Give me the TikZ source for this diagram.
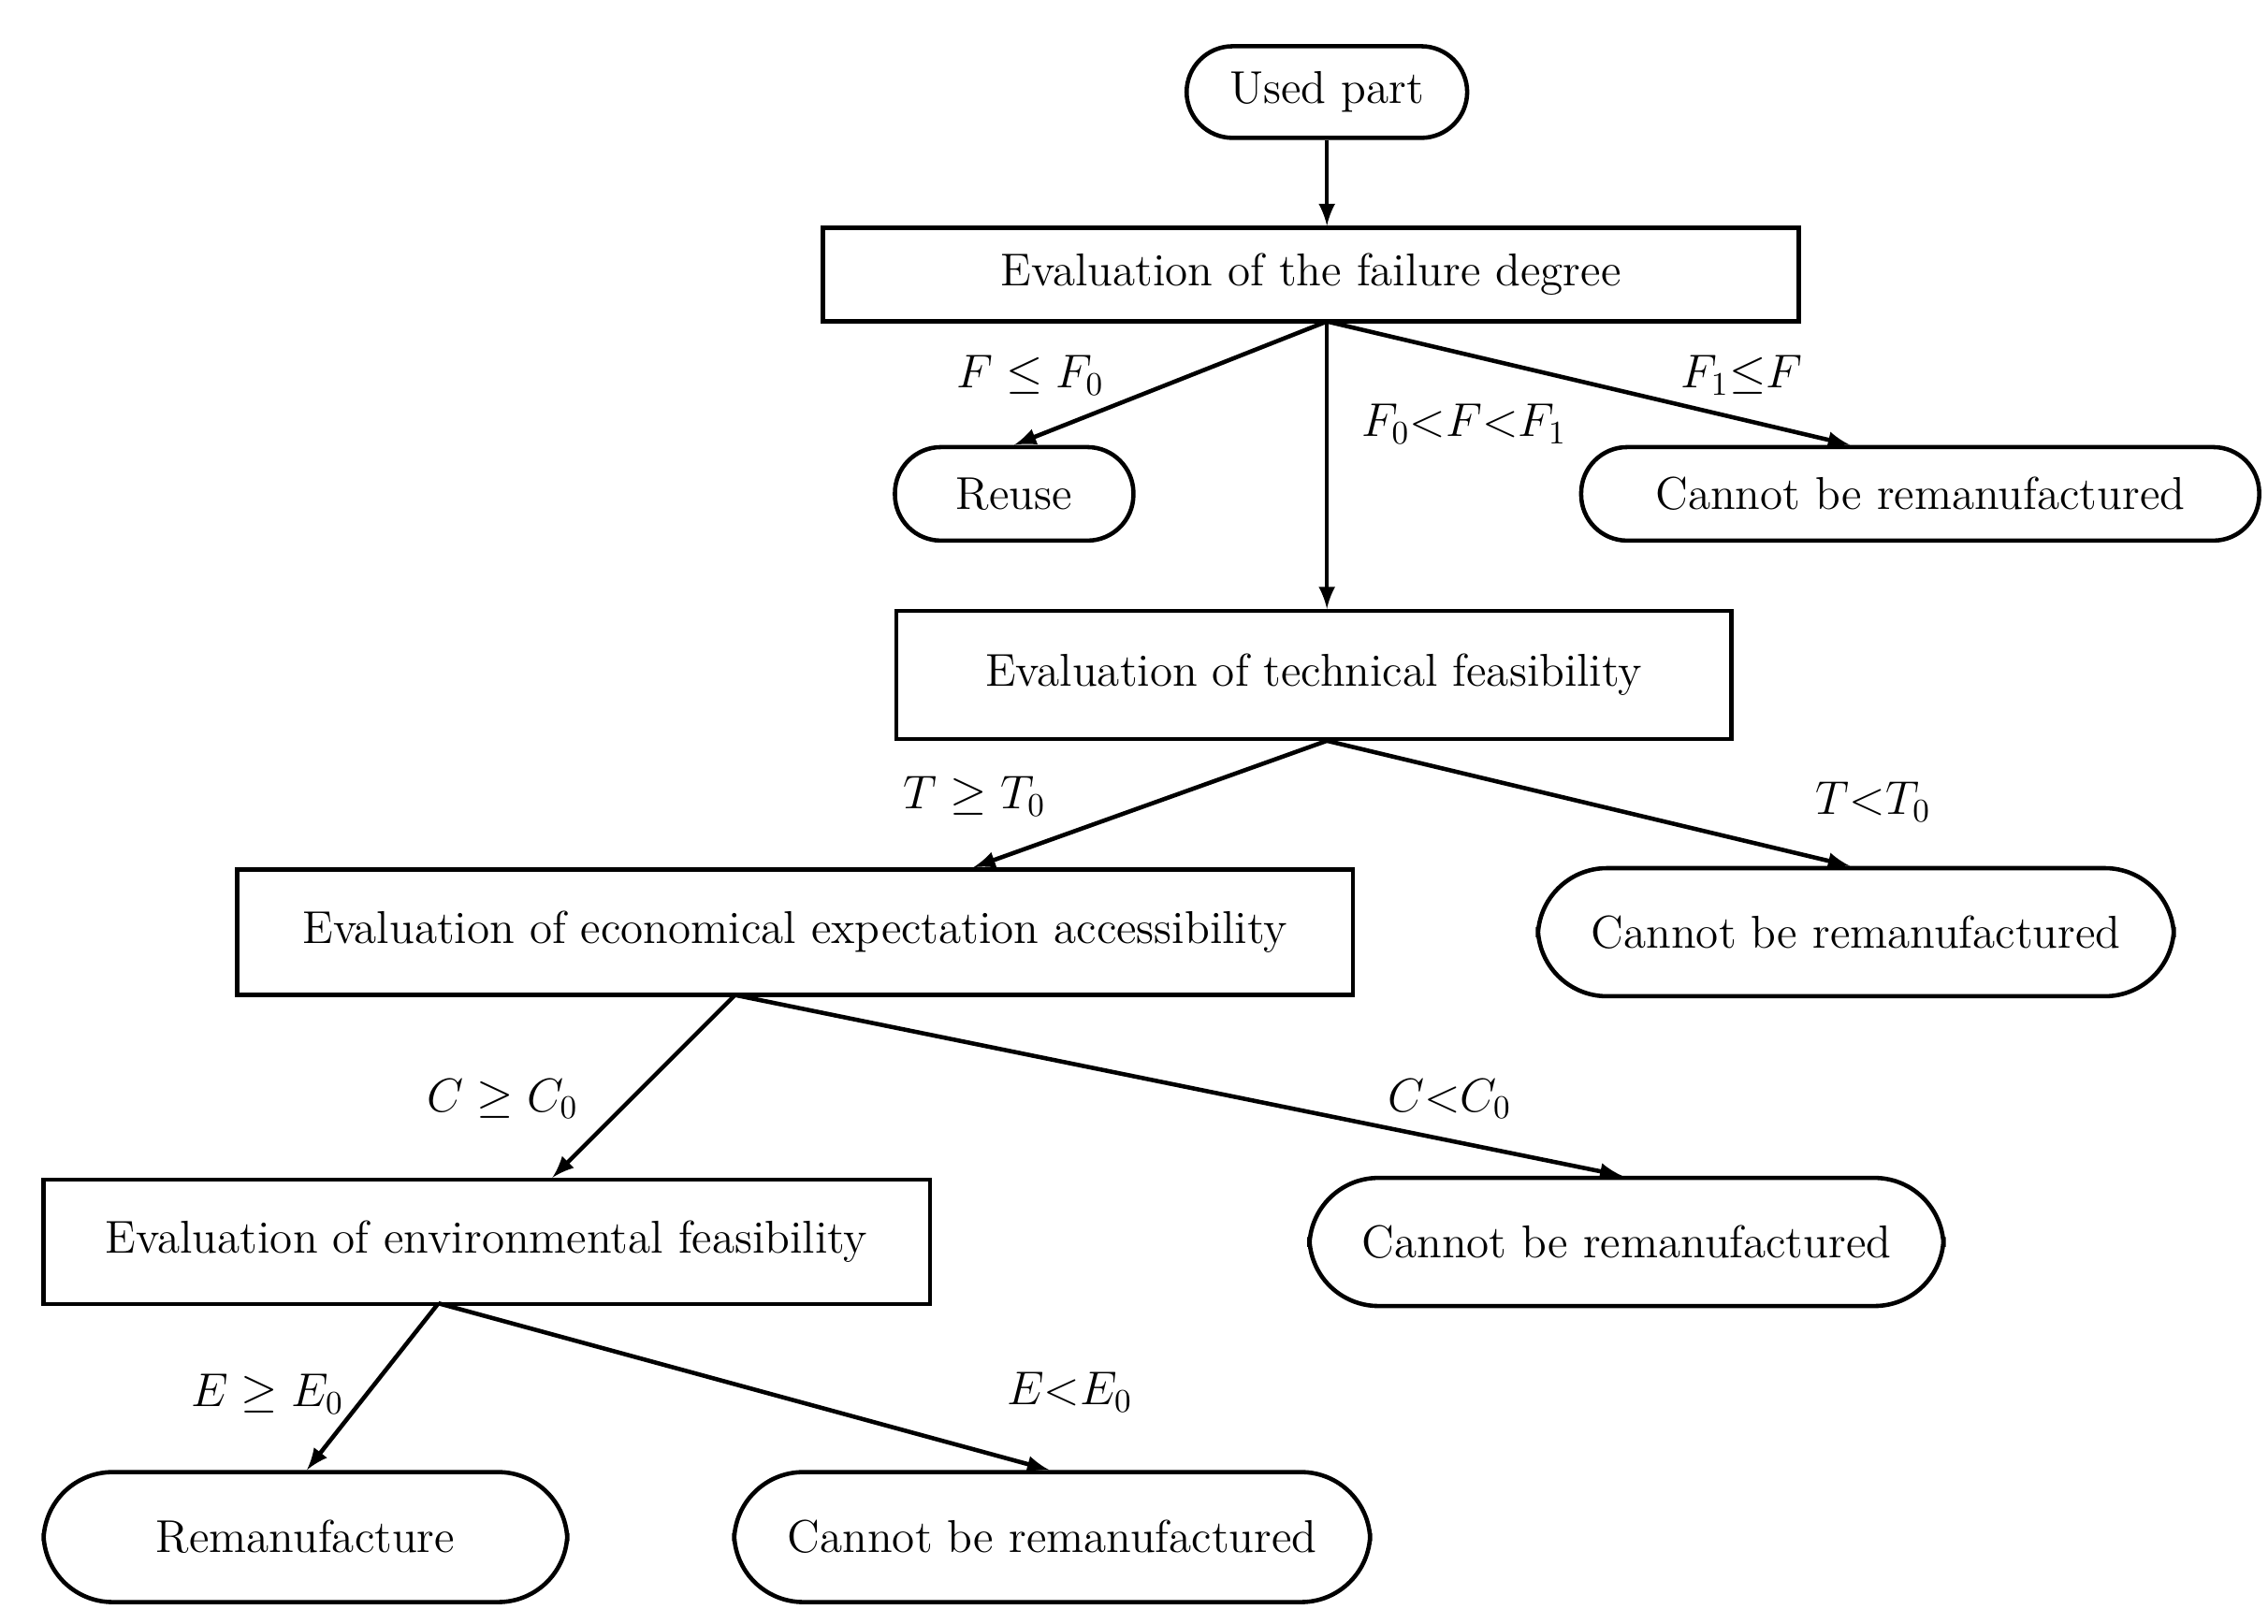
\documentclass[tikz,border=0pt]{standalone}
\usetikzlibrary{calc}
\begin{document}
\begin{tikzpicture}[x=0.015619cm,y=-0.015619cm,
  every node/.style={font=\fontsize{14}{16}\selectfont},
  box/.style={draw,line width=1.3pt,inner sep=0pt},
  rbox/.style={draw,line width=1.3pt,inner sep=0pt,rounded corners=14pt},
  arr/.style={-latex,line width=1.3pt},
  lab/.style={font=\fontsize{14}{16}\selectfont}]
\useasboundingbox (0,0) rectangle (1552,1111);
\node[rbox,minimum width=192\pgflinewidth*0+3cm,minimum height=0.98cm,rounded corners=14pt] (used) at (908,63) {Used part};
\node[box,minimum width=10.43cm,minimum height=1.0cm] (fail) at (897,188) {Evaluation of the failure degree};
\node[rbox,minimum width=2.55cm,minimum height=1.0cm] (reuse) at (694,338) {Reuse};
\node[rbox,minimum width=7.25cm,minimum height=1.0cm] (c1) at (1314,338) {Cannot be remanufactured};
\node[box,minimum width=8.93cm,minimum height=1.37cm] (tech) at (899,462) {Evaluation of technical feasibility};
\node[rbox,minimum width=6.8cm,minimum height=1.37cm,rounded corners=21pt] (c2) at (1270,638) {Cannot be remanufactured};
\node[box,minimum width=11.93cm,minimum height=1.34cm] (econ) at (544,638) {Evaluation of economical expectation accessibility};
\node[rbox,minimum width=6.78cm,minimum height=1.37cm,rounded corners=21pt] (c3) at (1113,850) {Cannot be remanufactured};
\node[box,minimum width=9.48cm,minimum height=1.33cm] (env) at (333,850) {Evaluation of environmental feasibility};
\node[rbox,minimum width=5.6cm,minimum height=1.39cm,rounded corners=21pt] (reman) at (209,1052) {Remanufacture};
\node[rbox,minimum width=6.8cm,minimum height=1.39cm,rounded corners=21pt] (c4) at (720,1052) {Cannot be remanufactured};
\coordinate (fs) at (908,220);
\coordinate (ts) at (908,507);
\coordinate (es) at (503,681);
\coordinate (vs) at (300,892);
\draw[arr] (used) -- (used|-fail.north);
\draw[arr] (fs) -- (reuse.north);
\draw[arr] (fs) -- (c1.north-|1266,0);
\draw[arr] (fs) -- (fs|-tech.north);
\draw[arr] (ts) -- (econ.north-|666,0);
\draw[arr] (ts) -- (c2.north-|1266,0);
\draw[arr] (es) -- (env.north-|378,0);
\draw[arr] (es) -- (c3.north-|1110,0);
\draw[arr] (vs) -- (reman.north-|210,0);
\draw[arr] (vs) -- (c4.north-|718,0);
\node[lab] (l1) at (705,257) {$F\leq F_0$};
\node[lab] (l2) at (1002,290) {$F_0{<}F{<}F_1$};
\node[lab] (l3) at (1192,257) {$F_1{\leq}F$};
\node[lab] (l4) at (667,545) {$T\geq T_0$};
\node[lab] (l5) at (1282,549) {$T{<}T_0$};
\node[lab] (l6) at (344,752) {$C\geq C_0$};
\node[lab] (l7) at (992,752) {$C{<}C_0$};
\node[lab] (l8) at (183,954) {$E\geq E_0$};
\node[lab] (l9) at (732,953) {$E{<}E_0$};
\end{tikzpicture}
\end{document}
